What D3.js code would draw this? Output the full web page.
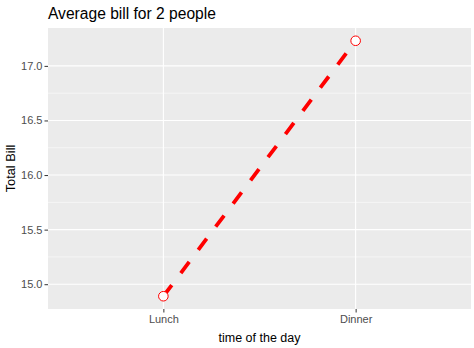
<!DOCTYPE html>
<html>
<head>
<meta charset="utf-8">
<script src="https://cdn.jsdelivr.net/npm/d3@7"></script>
<style>
  body { margin: 0; background: #fff; }
  text { font-family: "Liberation Sans", Arial, sans-serif; }
</style>
</head>
<body>
<div id="chart"></div>
<script>
// data
var times = ["Lunch", "Dinner"];
var totalBill = [14.89, 17.23];
var yTicks = [15.0, 15.5, 16.0, 16.5, 17.0];
var yMinor = [15.25, 15.75, 16.25, 16.75];

var width = 474, height = 348;
var margin = {top: 28, right: 3, bottom: 39, left: 48};
var pw = width - margin.left - margin.right,
    ph = height - margin.top - margin.bottom;

var svg = d3.select("#chart").append("svg")
    .attr("width", width)
    .attr("height", height);

// ggplot style expansion
var lo = d3.min(totalBill), hi = d3.max(totalBill), pad = (hi - lo) * 0.05;
var y = d3.scaleLinear()
    .domain([lo - pad, hi + pad])
    .range([ph, 0]);

var x = d3.scalePoint()
    .domain(times)
    .range([0, pw])
    .padding(0.6);

var g = svg.append("g")
    .attr("transform", "translate(" + margin.left + "," + margin.top + ")");

g.append("rect")
    .attr("width", pw)
    .attr("height", ph)
    .attr("fill", "#EBEBEB");

g.selectAll(".minor").data(yMinor)
    .enter().append("line")
    .attr("x1", 0).attr("x2", pw)
    .attr("y1", d => y(d)).attr("y2", d => y(d))
    .attr("stroke", "#fff").attr("stroke-width", 0.55);

g.selectAll(".hmajor").data(yTicks)
    .enter().append("line")
    .attr("x1", 0).attr("x2", pw)
    .attr("y1", d => y(d)).attr("y2", d => y(d))
    .attr("stroke", "#fff").attr("stroke-width", 1.1);

g.selectAll(".vmajor").data(times)
    .enter().append("line")
    .attr("x1", d => x(d)).attr("x2", d => x(d))
    .attr("y1", 0).attr("y2", ph)
    .attr("stroke", "#fff").attr("stroke-width", 1.1);

// axes
var yAxis = g.append("g")
    .call(d3.axisLeft(y).tickValues(yTicks).tickFormat(d3.format(".1f")).tickSize(3.5).tickPadding(2));
var xAxis = g.append("g")
    .attr("transform", "translate(0," + ph + ")")
    .call(d3.axisBottom(x).tickSize(3.5).tickPadding(3));

[yAxis, xAxis].forEach(function(a) {
    a.select(".domain").remove();
    a.selectAll(".tick line").attr("stroke", "#333").attr("stroke-width", 1);
    a.selectAll(".tick text").attr("fill", "#4D4D4D").style("font-size", "11px");
});

// line + points
var line = d3.line()
    .x((d, i) => x(times[i]))
    .y(d => y(d));

g.append("path")
    .datum(totalBill)
    .attr("d", line)
    .attr("fill", "none")
    .attr("stroke", "#FF0000")
    .attr("stroke-width", 3.8)
    .attr("stroke-dasharray", "14,15");

g.selectAll(".pt").data(totalBill)
    .enter().append("circle")
    .attr("cx", (d, i) => x(times[i]))
    .attr("cy", d => y(d))
    .attr("r", 4.8)
    .attr("fill", "#fff")
    .attr("stroke", "#FF0000")
    .attr("stroke-width", 1);

// titles
svg.append("text")
    .attr("x", margin.left)
    .attr("y", 19)
    .style("font-size", "15.6px")
    .attr("fill", "#000")
    .text("Average bill for 2 people");

svg.append("text")
    .attr("x", margin.left + pw / 2)
    .attr("y", 342)
    .attr("text-anchor", "middle")
    .style("font-size", "12.5px")
    .attr("fill", "#000")
    .text("time of the day");

svg.append("text")
    .attr("transform", "translate(15," + (margin.top + ph / 2) + ") rotate(-90)")
    .attr("text-anchor", "middle")
    .style("font-size", "12.8px")
    .attr("fill", "#000")
    .text("Total Bill");
</script>
</body>
</html>
